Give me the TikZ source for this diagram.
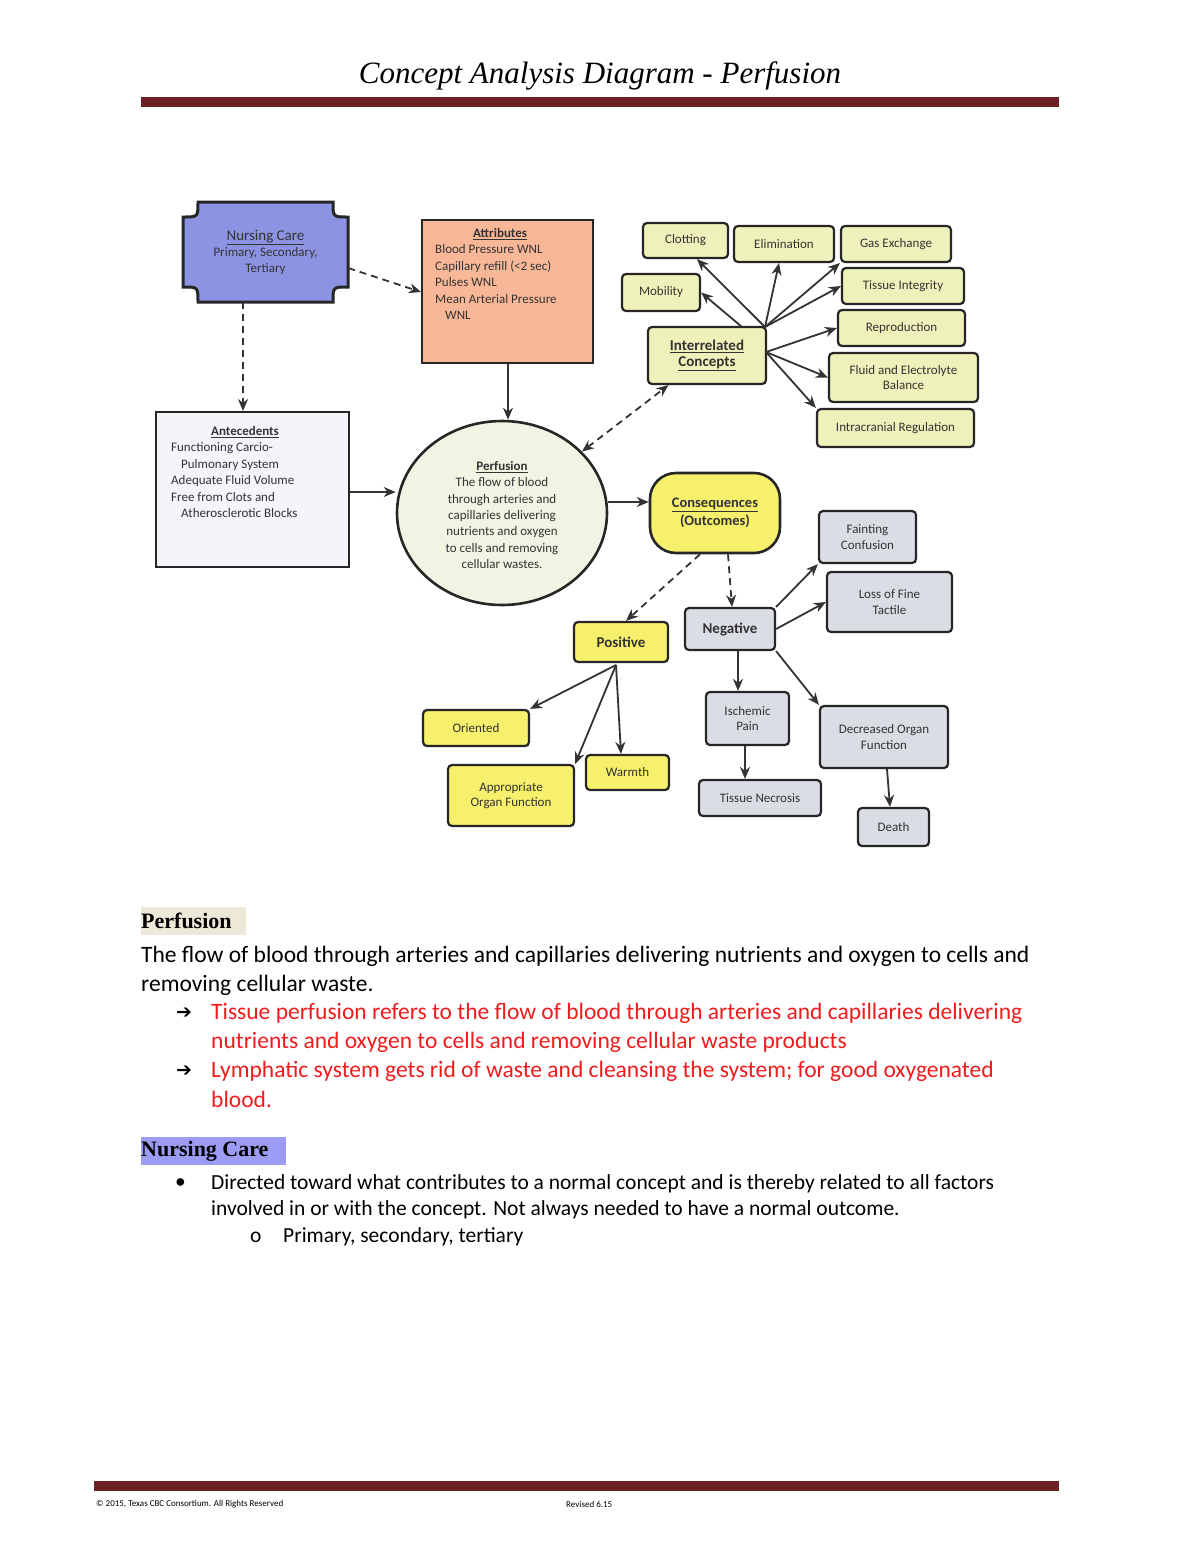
\documentclass[tikz,border=0pt]{standalone}
\usepackage{fontspec}
\setmainfont{Carlito}
\newfontfamily\serifit{Liberation Serif}
\newfontfamily\djv{DejaVu Sans}
\usetikzlibrary{arrows.meta,shapes.geometric}
\definecolor{barc}{HTML}{6B2226}
\definecolor{ncfill}{HTML}{8C93E2}
\definecolor{atfill}{HTML}{F8B898}
\definecolor{anfill}{HTML}{F4F5FA}
\definecolor{pefill}{HTML}{F3F3E3}
\definecolor{icfill}{HTML}{EEF2BA}
\definecolor{yel}{HTML}{F6F06C}
\definecolor{gry}{HTML}{DADEE4}
\definecolor{redt}{HTML}{EE1C1C}
\definecolor{tanhl}{HTML}{EEE8D8}
\definecolor{bluehl}{HTML}{9C9CF4}
\tikzset{
 box/.style={draw=black!85, line width=2.2pt, rounded corners=4pt, align=center, inner sep=1pt,
   font=\fontsize{13}{15.5}\selectfont, text=black!80},
 sqbox/.style={draw=black!85, line width=2.4pt, align=left, inner sep=1pt, text=black!80},
 con/.style={draw=black!80, line width=1.8pt, -{Stealth[length=12pt,width=10pt]}},
 dcon/.style={con, dash pattern=on 7pt off 5pt},
 body/.style={anchor=west, inner sep=0pt, font=\fontsize{23.5}{26}\selectfont},
 small/.style={anchor=west, inner sep=0pt, font=\fontsize{21.5}{24}\selectfont},
}
\newcommand\bx[7]{\node[box,fill=#6,minimum width={#4-#2},minimum height={#5-#3}] (#1) at ({(#2+#4)/2},{(#3+#5)/2}) {#7};}
\begin{document}
\begin{tikzpicture}[x=1pt,y=-1pt]
\useasboundingbox (0,0) rectangle (1200,1553);
\fill[white] (0,0) rectangle (1200,1553);
% header
\node[font=\serifit\itshape\fontsize{31}{33}\selectfont] (title) at (600,76) {Concept Analysis Diagram - Perfusion};
\fill[barc] (141,97) rectangle (1059,107);
% nursing care
\def\r{15}
\draw[fill=ncfill, line width=3pt, draw=black!85] (183+\r,202) -- (348-\r,202) .. controls (348-\r,202+\r) .. (348,202+\r) -- (348,302-\r) .. controls (348-\r,302-\r) .. (348-\r,302) -- (183+\r,302) .. controls (183+\r,302-\r) .. (183,302-\r) -- (183,202+\r) .. controls (183+\r,202+\r) .. (183+\r,202) -- cycle;
\node[align=center, font=\fontsize{13}{16}\selectfont, text=black!80, minimum width=165pt, minimum height=100pt] (nc) at (265.5,252) {{\fontsize{15}{17}\selectfont\underline{Nursing Care}}\\Primary, Secondary,\\Tertiary};
% attributes
\node[sqbox, fill=atfill, minimum width=171pt, minimum height=143pt, anchor=north west] (at) at (421,219) {};
\node[anchor=north west, align=left, font=\fontsize{13}{16.5}\selectfont, text=black!80, inner sep=0pt] at (435,228) {\hspace*{38pt}{\bfseries\underline{Attributes}}\\Blood Pressure WNL\\Capillary refill (<2 sec)\\Pulses WNL\\Mean Arterial Pressure\\\hspace*{10pt}WNL};
% antecedents
\node[sqbox, fill=anfill, minimum width=193pt, minimum height=155pt, anchor=north west] (an) at (155,411) {};
\node[anchor=north west, align=left, font=\fontsize{13}{16.5}\selectfont, text=black!80, inner sep=0pt] at (171,426) {\hspace*{40pt}{\bfseries\underline{Antecedents}}\\Functioning Carcio-\\\hspace*{10pt}Pulmonary System\\Adequate Fluid Volume\\Free from Clots and\\\hspace*{10pt}Atherosclerotic Blocks};
% perfusion
\node[ellipse, draw=black!85, line width=2.6pt, fill=pefill, minimum width=210pt, minimum height=184pt, inner sep=0pt] (pe) at (502,513) {};
\node[align=center, font=\fontsize{13}{16.3}\selectfont, text=black!80] at (502,515) {{\bfseries\underline{Perfusion}}\\The flow of blood\\through arteries and\\capillaries delivering\\nutrients and oxygen\\to cells and removing\\cellular wastes.};
% interrelated
\bx{ic}{648}{327}{766}{384}{icfill}{{\bfseries\fontsize{15}{18}\selectfont\underline{Interrelated}}\\{\bfseries\fontsize{15}{18}\selectfont\underline{Concepts}}}
\bx{clot}{643}{223}{728}{258}{icfill}{Clotting}
\bx{elim}{734}{226}{834}{262}{icfill}{Elimination}
\bx{gas}{841}{226}{951}{262}{icfill}{Gas Exchange}
\bx{mob}{622}{274}{700}{311}{icfill}{Mobility}
\bx{ti}{842}{268}{964}{304}{icfill}{Tissue Integrity}
\bx{rep}{838}{310}{965}{346}{icfill}{Reproduction}
\bx{fl}{829}{353}{978}{402}{icfill}{Fluid and Electrolyte\\Balance}
\bx{icr}{817}{409}{974}{447}{icfill}{Intracranial Regulation}
% consequences
\node[draw=black!85, line width=2.6pt, fill=yel, rounded corners=26pt, minimum width=130pt, minimum height=80pt, align=center, font=\bfseries\fontsize{14.5}{18}\selectfont, text=black!80] (cq) at (715,513) {\underline{Consequences}\\(Outcomes)};
\bx{pos}{574}{622}{668}{662}{yel}{\bfseries\fontsize{15}{17}\selectfont Positive}
\bx{neg}{685}{608}{775}{650}{gry}{\bfseries\fontsize{15}{17}\selectfont Negative}
\bx{fa}{819}{511}{916}{563}{gry}{Fainting\\Confusion}
\bx{lo}{827}{572}{952}{632}{gry}{Loss of Fine\\Tactile}
\bx{ori}{423}{710}{529}{746}{yel}{Oriented}
\bx{app}{448}{765}{574}{826}{yel}{Appropriate\\Organ Function}
\bx{war}{586}{755}{669}{790}{yel}{Warmth}
\bx{isc}{706}{692}{789}{745}{gry}{Ischemic\\Pain}
\bx{nec}{699}{780}{821}{816}{gry}{Tissue Necrosis}
\bx{dec}{820}{706}{948}{768}{gry}{Decreased Organ\\Function}
\bx{dea}{858}{808}{929}{846}{gry}{Death}
% connectors
\draw[dcon] (nc.east |- 0,268) -- (at.west |- 0,292);
\draw[dcon] (nc.south -| 243,0) -- (an.north -| 243,0);
\draw[con] (at.south -| 508,0) -- (pe.north -| 508,0);
\draw[con] (an.east |- 0,492) -- (pe.west |- 0,492);
\draw[con] (pe.east |- 0,502) -- (cq.west |- 0,502);
\draw[dcon, {Stealth[length=12pt,width=10pt]}-{Stealth[length=12pt,width=10pt]}] (pe) -- (ic);
\coordinate (f1) at (765,327);
\coordinate (f2) at (766,352);
\coordinate (f3) at (742,327);
\draw[con] (f3) -- (mob.east);
\draw[con] (f1) -- (clot.south -| 697,0);
\draw[con] (f1) -- (elim.south -| 779,0);
\draw[con] (f1) -- (gas.south west);
\draw[con] (f1) -- (ti.west);
\draw[con] (f2) -- (rep.west);
\draw[con] (f2) -- (fl.west);
\draw[con] (f2) -- (icr.north west);
\draw[dcon] (cq.south -| 700,0) -- (pos.north -| 626,0);
\draw[dcon] (cq.south -| 728,0) -- (neg.north -| 732,0);
\draw[con] (neg.north east) -- (fa.south west);
\draw[con] (neg.east) -- (lo.west);
\draw[con] (neg.south -| 738,0) -- (isc.north -| 738,0);
\draw[con] (neg.south east) -- (dec.north west);
\draw[con] (isc.south -| 745,0) -- (nec.north -| 745,0);
\draw[con] (dec.south -| 887,0) -- (dea.north -| 890,0);
\coordinate (pb) at (616,665);
\draw[con] (pb) -- (ori.north east);
\draw[con] (pb) -- (app.north east);
\draw[con] (pb) -- (war.north -| 621,0);
% text section
\fill[tanhl] (141,907) rectangle (246,935);
\node[anchor=west, inner sep=0pt, font=\bfseries\serifit\fontsize{22}{24}\selectfont] (h1) at (141,921) {Perfusion};
\node[body] (l1) at (141,956) {The flow of blood through arteries and capillaries delivering nutrients and oxygen to cells and};
\node[body] (l2) at (141,985) {removing cellular waste.};
\node[anchor=west, inner sep=0pt, font=\djv\bfseries\fontsize{19}{20}\selectfont] (a1) at (176,1013) {➔};
\node[body, text=redt] (r1) at (211,1013) {Tissue perfusion refers to the flow of blood through arteries and capillaries delivering};
\node[body, text=redt] (r2) at (211,1042) {nutrients and oxygen to cells and removing cellular waste products};
\node[anchor=west, inner sep=0pt, font=\djv\bfseries\fontsize{19}{20}\selectfont] (a2) at (176,1071) {➔};
\node[body, text=redt] (r3) at (211,1071) {Lymphatic system gets rid of waste and cleansing the system; for good oxygenated};
\node[body, text=redt] (r4) at (211,1099) {blood.};
\fill[bluehl] (141,1137) rectangle (286,1165);
\node[anchor=west, inner sep=0pt, font=\bfseries\serifit\fontsize{22}{24}\selectfont] (h2) at (141,1151) {Nursing Care};
\node[small] (b0) at (175,1184) {•};
\node[small] (b1) at (211,1184) {Directed toward what contributes to a normal concept and is thereby related to all factors};
\node[small] (b2) at (211,1210) {involved in or with the concept. Not always needed to have a normal outcome.};
\node[small] (b3) at (250,1237) {o};
\node[small] (b4) at (283,1237) {Primary, secondary, tertiary};
% footer
\fill[barc] (94,1481) rectangle (1059,1491);
\node[anchor=west, inner sep=0pt, font=\fontsize{9}{10}\selectfont] (ft1) at (96,1504) {© 2015, Texas CBC Consortium. All Rights Reserved};
\node[anchor=west, inner sep=0pt, font=\fontsize{9}{10}\selectfont] (ft2) at (566,1504) {Revised 6.15};
\end{tikzpicture}
\end{document}
